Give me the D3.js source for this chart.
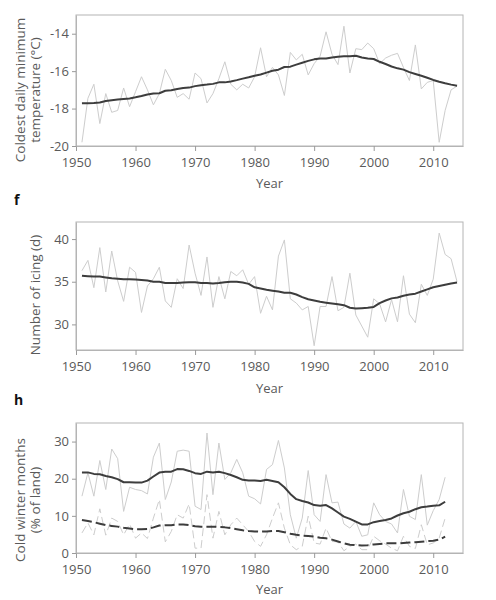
<!DOCTYPE html>
<html>
<head>
<meta charset="utf-8">
<script src="https://cdn.jsdelivr.net/npm/d3@7"></script>
<style>
  body { margin: 0; background: #fff; }
  text { font-family: 'Open Sans', sans-serif; }
</style>
</head>
<body>
<div class="canvas"></div>
<script>
// years for the first two panels (1951-2014) and the last (1951-2012)
const yearsA = d3.range(1951, 2015);
const yearsB = d3.range(1951, 2013);

// panel e: coldest daily minimum temperature
const tnnRaw = [-19.8,-17.45,-16.7,-18.8,-17.2,-18.2,-18.1,-16.9,-17.9,-17.1,
  -16.3,-17.0,-17.8,-17.2,-15.9,-16.5,-17.4,-17.2,-17.5,-16.1,
  -16.4,-17.7,-17.2,-16.4,-15.5,-16.7,-17.0,-16.7,-16.9,-16.3,
  -14.75,-16.3,-15.8,-16.2,-17.3,-15.0,-15.4,-15.1,-16.2,-15.6,
  -15.2,-13.9,-15.1,-15.65,-13.6,-16.1,-14.8,-14.85,-14.5,-14.8,
  -15.6,-15.3,-15.15,-15.05,-15.8,-16.5,-14.6,-16.95,-16.6,-16.5,
  -19.8,-18.1,-17.0,-16.8];
const tnnSmooth = [-17.72,-17.71,-17.70,-17.68,-17.6,-17.55,-17.52,-17.49,-17.46,-17.4,
  -17.33,-17.25,-17.2,-17.18,-17.05,-17.02,-16.95,-16.9,-16.88,-16.8,
  -16.75,-16.72,-16.68,-16.6,-16.6,-16.55,-16.48,-16.4,-16.33,-16.25,
  -16.18,-16.08,-15.98,-15.92,-15.78,-15.76,-15.65,-15.55,-15.45,-15.37,
  -15.32,-15.33,-15.27,-15.23,-15.21,-15.2,-15.18,-15.27,-15.32,-15.35,
  -15.5,-15.62,-15.75,-15.85,-15.92,-16.05,-16.15,-16.25,-16.35,-16.47,
  -16.57,-16.65,-16.72,-16.78];

// panel f: number of icing days
const icingRaw = [36.3,37.5,34.3,39.0,33.8,38.6,35.1,32.7,36.7,36.1,
  31.4,34.5,35.35,36.7,32.75,32.0,35.35,34.2,39.3,36.0,
  33.4,37.9,32.0,35.6,33.0,36.2,35.7,36.4,34.7,35.6,
  31.3,33.3,31.7,38.0,39.9,33.0,32.5,31.7,32.1,27.5,
  32.1,32.1,35.6,31.6,32.0,36.0,31.1,29.8,28.5,33.0,
  32.4,30.3,32.9,30.3,35.7,31.2,30.2,34.7,33.4,35.3,
  40.7,38.2,37.7,35.0];
const icingSmooth = [35.7,35.65,35.6,35.6,35.5,35.4,35.35,35.3,35.3,35.25,
  35.2,35.15,35.0,35.0,34.85,34.85,34.85,34.9,34.95,34.95,
  34.85,34.85,34.8,34.85,34.95,35.0,35.0,34.9,34.75,34.35,
  34.2,34.05,33.95,33.85,33.7,33.7,33.5,33.2,32.95,32.8,
  32.65,32.55,32.45,32.35,32.25,31.95,31.85,31.9,31.95,32.05,
  32.5,32.8,33.05,33.15,33.35,33.5,33.6,33.85,34.1,34.35,
  34.5,34.65,34.8,34.9];

// panel h: cold winter months (% of land), two thresholds
const coldRaw = [15.3,21.6,15.3,24.9,17.1,28.0,25.4,11.2,17.7,17.1,
  16.8,15.9,25.8,29.6,14.4,19.1,27.4,27.7,27.4,12.6,
  11.7,32.3,15.7,29.6,19.8,21.6,25.2,21.6,15.3,14.6,
  13.2,22.5,23.8,30.3,22.9,10.3,4.0,9.4,22.2,10.3,
  8.5,21.1,13.5,13.7,7.8,6.7,8.5,4.5,4.9,13.5,
  10.3,8.5,7.8,5.4,17.1,9.9,9.0,21.1,7.5,11.4,
  14.4,20.4];
const coldSmooth = [21.7,21.7,21.3,21.2,20.75,20.4,19.9,19.05,19.05,18.95,
  18.95,19.5,20.6,21.65,21.9,21.9,22.6,22.55,22.1,21.5,
  21.3,21.9,21.7,21.9,21.5,21.0,20.4,19.7,19.5,19.5,
  19.4,19.7,19.4,19.05,17.7,15.9,14.5,14.0,13.6,12.9,
  12.75,12.9,12.0,10.9,9.8,9.2,8.45,7.7,7.7,8.3,
  8.6,8.9,9.3,10.1,10.7,11.1,11.8,12.3,12.5,12.75,
  12.85,13.8];
const extremeRaw = [5.4,8.1,4.9,11.9,4.8,9.4,8.5,4.9,7.8,4.0,
  5.4,3.9,9.4,14.4,3.0,5.8,10.3,9.4,13.2,1.3,
  1.3,15.7,4.0,11.2,4.9,7.6,9.4,7.6,5.8,3.1,
  1.8,4.9,9.4,13.5,6.7,2.2,0.9,1.8,9.9,2.7,
  2.4,6.7,3.1,3.0,0.6,1.8,2.4,0.9,0.9,4.5,
  3.3,2.4,1.3,0.6,4.5,1.8,1.2,7.6,2.2,2.7,
  4.0,9.4];
const extremeSmooth = [8.9,8.6,8.3,7.9,7.5,7.3,7.1,6.8,6.6,6.4,
  6.4,6.5,6.9,7.4,7.5,7.5,7.7,7.7,7.5,7.2,
  7.1,7.1,7.1,7.0,6.9,6.7,6.4,6.1,5.9,5.8,
  5.75,5.8,5.9,5.9,5.6,5.2,4.9,4.7,4.6,4.4,
  4.1,3.95,3.6,3.1,2.6,2.2,2.1,2.05,2.1,2.3,
  2.45,2.6,2.6,2.6,2.7,2.8,2.9,3.05,3.2,3.3,
  3.6,4.4];

const yearTicks = [1950,1960,1970,1980,1990,2000,2010];

const svg = d3.select('.canvas').append('svg')
  .attr('width', 496)
  .attr('height', 600);

const x = d3.scaleLinear().domain([1950, 2015]).range([76, 463]);

const lightGrey = '#cdcdcd';
const darkGrey = '#3d3d3d';
const textCol = '#5a5a5a';

function panel(opts) {
  const y = d3.scaleLinear().domain(opts.domain).range([opts.bottom, opts.top]);
  const g = svg.append('g');

  // frame
  g.append('rect')
    .attr('x', x.range()[0])
    .attr('y', opts.top)
    .attr('width', x.range()[1] - x.range()[0])
    .attr('height', opts.bottom - opts.top)
    .attr('fill', 'none')
    .attr('stroke', '#b4b4b4')
    .attr('stroke-width', 1);

  const xAxis = g.append('g')
    .attr('transform', `translate(0,${opts.bottom})`)
    .call(d3.axisBottom(x).tickValues(yearTicks).tickFormat(d3.format('d')).tickSize(5).tickSizeOuter(0));
  const yAxis = g.append('g')
    .attr('transform', `translate(${x.range()[0]},0)`)
    .call(d3.axisLeft(y).tickValues(opts.ticks).tickSize(4).tickSizeOuter(0).tickFormat(d => String(d)));

  [xAxis, yAxis].forEach(a => {
    a.select('.domain').attr('stroke', '#b4b4b4');
    a.selectAll('.tick line').attr('stroke', '#9a9a9a');
    a.selectAll('.tick text')
      .attr('fill', textCol)
      .style('font-size', '13px')
      .style('font-family', "'Open Sans', sans-serif");
  });
  xAxis.selectAll('.tick text').attr('y', 7).attr('dy', '1.1em');
  yAxis.selectAll('.tick text').attr('x', -7);

  const line = d3.line()
    .x((d, i) => x(opts.years[i]))
    .y(d => y(d));

  opts.series.forEach(s => {
    g.append('path')
      .datum(s.values)
      .attr('d', line)
      .attr('fill', 'none')
      .attr('stroke', s.color)
      .attr('stroke-width', s.width)
      .attr('stroke-dasharray', s.dash || null)
      .attr('stroke-linejoin', 'round');
  });

  // axis titles
  g.append('text')
    .attr('x', (x.range()[0] + x.range()[1]) / 2)
    .attr('y', opts.yearY)
    .attr('text-anchor', 'middle')
    .attr('fill', textCol)
    .style('font-size', '13px')
    .text('Year');

  opts.label.forEach((t, i) => {
    g.append('text')
      .attr('transform', `translate(${opts.labelX[i]},${opts.labelMid}) rotate(-90)`)
      .attr('text-anchor', 'middle')
      .attr('fill', textCol)
      .style('font-size', '13.5px')
      .text(t);
  });

  if (opts.letter) {
    svg.append('text')
      .attr('x', 14)
      .attr('y', opts.letterY)
      .attr('fill', '#111')
      .style('font-size', '14px')
      .style('font-weight', 'bold')
      .text(opts.letter);
  }
}

panel({
  domain: [-20, -13], top: 15, bottom: 146, ticks: [-20, -18, -16, -14],
  years: yearsA,
  series: [
    {values: tnnRaw, color: lightGrey, width: 1},
    {values: tnnSmooth, color: darkGrey, width: 2}
  ],
  yearY: 188, label: ['Coldest daily minimum', 'temperature (°C)'],
  labelX: [25, 40], labelMid: 90
});

panel({
  domain: [27, 42], top: 222, bottom: 350, ticks: [30, 35, 40],
  years: yearsA,
  series: [
    {values: icingRaw, color: lightGrey, width: 1},
    {values: icingSmooth, color: darkGrey, width: 2}
  ],
  yearY: 393, label: ['Number of icing (d)'],
  labelX: [40], labelMid: 295,
  letter: 'f', letterY: 205
});

panel({
  domain: [0, 35], top: 423, bottom: 553, ticks: [0, 10, 20, 30],
  years: yearsB,
  series: [
    {values: coldRaw, color: lightGrey, width: 1},
    {values: extremeRaw, color: lightGrey, width: 1, dash: '8,4'},
    {values: coldSmooth, color: darkGrey, width: 2},
    {values: extremeSmooth, color: darkGrey, width: 2, dash: '10,4'}
  ],
  yearY: 594, label: ['Cold winter months', '(% of land)'],
  labelX: [25, 40], labelMid: 500,
  letter: 'h', letterY: 405
});
</script>
</body>
</html>
